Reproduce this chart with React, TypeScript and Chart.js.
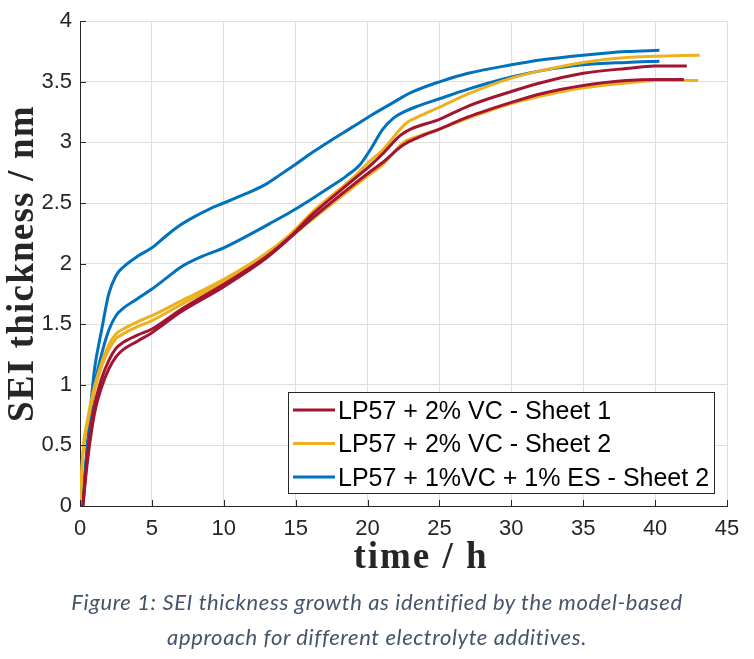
import React, { useEffect, useRef } from "react";
import { Chart, registerables } from "chart.js";

Chart.register(...registerables);

// ---------- data ----------
const RED_A_T = [0.2, 0.5, 1, 1.5, 2, 2.5, 3, 4, 5, 7, 10, 13, 14.6, 16.2, 19, 20.2, 21, 22.3, 23, 25, 27, 30, 32, 35, 38, 40, 42.2];
const RED_A_V = [0, 0.40, 0.82, 1.05, 1.20, 1.30, 1.35, 1.41, 1.46, 1.62, 1.83, 2.06, 2.22, 2.41, 2.69, 2.81, 2.90, 3.06, 3.11, 3.19, 3.30, 3.42, 3.49, 3.57, 3.61, 3.63, 3.63];

const RED_B_T = [0.2, 0.5, 1, 1.5, 2, 2.5, 3, 4, 5, 7, 10, 13, 16.2, 19, 20.2, 21, 22.5, 23.5, 25, 27, 30, 32, 35, 38, 40, 42];
const RED_B_V = [0, 0.35, 0.76, 0.98, 1.13, 1.23, 1.29, 1.36, 1.43, 1.60, 1.81, 2.05, 2.38, 2.65, 2.76, 2.83, 2.98, 3.04, 3.11, 3.21, 3.33, 3.40, 3.47, 3.51, 3.52, 3.52];

const YEL_A_T = [0, 0.2, 0.5, 1, 1.5, 2, 2.5, 3, 4, 5, 7, 10, 13, 14.6, 16.2, 19, 20.2, 21, 22.7, 23.5, 25, 27, 30, 32, 35, 38, 40, 43.1];
const YEL_A_V = [0, 0.45, 0.70, 0.98, 1.18, 1.33, 1.42, 1.46, 1.52, 1.57, 1.69, 1.87, 2.09, 2.24, 2.43, 2.71, 2.85, 2.93, 3.16, 3.21, 3.29, 3.40, 3.53, 3.59, 3.66, 3.70, 3.71, 3.72];

const YEL_B_T = [0, 0.2, 0.5, 1, 1.5, 2, 2.5, 3, 4, 5, 7, 10, 13, 16.2, 19, 20.2, 21, 22.5, 23.5, 25, 27, 30, 32, 35, 38, 40, 43];
const YEL_B_V = [0, 0.42, 0.67, 0.95, 1.15, 1.29, 1.38, 1.42, 1.48, 1.53, 1.66, 1.85, 2.08, 2.37, 2.63, 2.74, 2.81, 3.00, 3.05, 3.11, 3.20, 3.32, 3.38, 3.45, 3.49, 3.51, 3.51];

const BLU_A_T = [0.15, 0.5, 1, 1.5, 2, 2.5, 3, 4, 5, 6, 7, 8, 9, 10, 11, 12, 13, 14, 15, 16.2, 17.5, 19, 20.2, 21.8, 23, 25, 27, 30, 32, 35, 38, 40.3];
const BLU_A_V = [0, 0.50, 1.12, 1.45, 1.75, 1.90, 1.97, 2.06, 2.13, 2.23, 2.32, 2.39, 2.45, 2.50, 2.55, 2.60, 2.66, 2.74, 2.82, 2.92, 3.02, 3.13, 3.22, 3.33, 3.41, 3.50, 3.57, 3.64, 3.68, 3.72, 3.75, 3.76];

const BLU_B_T = [0.15, 0.5, 1, 1.5, 2, 2.5, 3, 4, 5, 6, 7, 8.5, 10, 11.5, 13.2, 14.7, 16.2, 17.5, 18.5, 19.5, 20.3, 21, 21.8, 22.5, 23.5, 25, 27, 30, 32, 35, 38, 40.3];
const BLU_B_V = [0, 0.45, 0.98, 1.25, 1.45, 1.57, 1.63, 1.71, 1.79, 1.88, 1.97, 2.06, 2.13, 2.22, 2.33, 2.43, 2.54, 2.64, 2.72, 2.82, 2.96, 3.10, 3.20, 3.25, 3.30, 3.36, 3.44, 3.54, 3.59, 3.64, 3.66, 3.67];

const LEGEND_LABELS = ["LP57 + 2% VC - Sheet 1", "LP57 + 2% VC - Sheet 2", "LP57 + 1%VC + 1% ES - Sheet 2"];
const X_TITLE = "time / h";
const Y_TITLE = "SEI thickness / nm";
const CAPTION_1 = "Figure 1: SEI thickness growth as identified by the model-based";
const CAPTION_2 = "approach for different electrolyte additives.";

const RED = "#A2142F";
const YELLOW = "#EDB120";
const BLUE = "#0072BD";
const LEGEND_COLORS = [RED, YELLOW, BLUE];

const pts = (t: number[], v: number[]) => t.map((x, i) => ({ x, y: v[i] }));

const overlay = {
  id: "overlay",
  afterDraw(chart: any) {
    const { ctx, chartArea: ca, scales } = chart;
    const xs = scales.x;
    const ys = scales.y;
    ctx.save();
    // inward tick marks
    ctx.strokeStyle = "#262626";
    ctx.lineWidth = 1;
    xs.ticks.forEach((t: any) => {
      const px = Math.round(xs.getPixelForValue(t.value)) + 0.5;
      ctx.beginPath();
      ctx.moveTo(px, ca.bottom);
      ctx.lineTo(px, ca.bottom - 6);
      ctx.stroke();
    });
    ys.ticks.forEach((t: any) => {
      const py = Math.round(ys.getPixelForValue(t.value)) + 0.5;
      ctx.beginPath();
      ctx.moveTo(ca.left, py);
      ctx.lineTo(ca.left + 6, py);
      ctx.stroke();
    });

    // legend
    const lx = 288.5, ly = 392.5, lw = 426, lh = 101;
    ctx.fillStyle = "#ffffff";
    ctx.fillRect(lx, ly, lw, lh);
    ctx.strokeStyle = "#262626";
    ctx.lineWidth = 1;
    ctx.strokeRect(lx, ly, lw, lh);
    ctx.font = '25px "Liberation Sans", Arial, sans-serif';
    ctx.textBaseline = "middle";
    ctx.textAlign = "left";
    LEGEND_LABELS.forEach((lab, i) => {
      const cy = 410 + i * 33.5;
      ctx.strokeStyle = LEGEND_COLORS[i];
      ctx.lineWidth = 3;
      ctx.beginPath();
      ctx.moveTo(293, cy);
      ctx.lineTo(335, cy);
      ctx.stroke();
      ctx.fillStyle = "#000000";
      ctx.fillText(lab, 338, cy + 2);
    });

    // axis titles
    ctx.fillStyle = "#262626";
    ctx.font = 'bold 37px "Liberation Serif", "Times New Roman", serif';
    ctx.textBaseline = "alphabetic";
    ctx.textAlign = "center";
    const fit = (text: string, target: number) => {
      (ctx as any).letterSpacing = "0px";
      const w = ctx.measureText(text).width;
      const ls = (target - w) / text.length;
      (ctx as any).letterSpacing = ls.toFixed(2) + "px";
    };
    fit(X_TITLE, 135);
    ctx.fillText(X_TITLE, 421, 568);
    ctx.save();
    ctx.translate(33, (ca.top + ca.bottom) / 2);
    ctx.rotate(-Math.PI / 2);
    fit(Y_TITLE, 317);
    ctx.fillText(Y_TITLE, 0, 0);
    ctx.restore();
    (ctx as any).letterSpacing = "0px";
    ctx.restore();
  },
};

export default function App() {
  const ref = useRef<HTMLCanvasElement | null>(null);

  useEffect(() => {
    if (!ref.current) return;
    const mk = (label: string, t: number[], v: number[], color: string) => ({
      label,
      data: pts(t, v),
      borderColor: color,
      backgroundColor: color,
      borderWidth: 3,
      pointRadius: 0,
      fill: false,
      cubicInterpolationMode: "monotone" as const,
    });
    const chart = new Chart(ref.current, {
      type: "line",
      data: {
        datasets: [
          mk(LEGEND_LABELS[0], RED_A_T, RED_A_V, RED),
          mk(LEGEND_LABELS[0], RED_B_T, RED_B_V, RED),
          mk(LEGEND_LABELS[1], YEL_A_T, YEL_A_V, YELLOW),
          mk(LEGEND_LABELS[1], YEL_B_T, YEL_B_V, YELLOW),
          mk(LEGEND_LABELS[2], BLU_A_T, BLU_A_V, BLUE),
          mk(LEGEND_LABELS[2], BLU_B_T, BLU_B_V, BLUE),
        ],
      },
      options: {
        animation: false,
        responsive: false,
        devicePixelRatio: 1,
        layout: { padding: { top: 20, right: 27, left: 0, bottom: 0 } },
        plugins: { legend: { display: false }, tooltip: { enabled: false }, title: { display: false } },
        scales: {
          x: {
            type: "linear",
            min: 0,
            max: 45,
            ticks: {
              stepSize: 5,
              padding: 10,
              color: "#262626",
              font: { family: '"Liberation Sans", Arial, sans-serif', size: 22 },
              maxRotation: 0,
              callback: (v: any) => String(Number(v)),
            },
            grid: { color: "#dfdfdf", drawTicks: false, lineWidth: 1 },
            border: { display: true, color: "#262626", width: 1 },
            afterFit: (s: any) => { s.height = 153; },
          },
          y: {
            type: "linear",
            min: 0,
            max: 4,
            ticks: {
              stepSize: 0.5,
              padding: 8,
              color: "#262626",
              font: { family: '"Liberation Sans", Arial, sans-serif', size: 22 },
              callback: (v: any) => String(Number(v)),
            },
            grid: { color: "#dfdfdf", drawTicks: false, lineWidth: 1 },
            border: { display: true, color: "#262626", width: 1 },
            afterFit: (s: any) => { s.width = 80; },
          },
        },
      },
      plugins: [overlay],
    });
    return () => chart.destroy();
  }, []);

  const capStyle: React.CSSProperties = {
    position: "absolute",
    left: 0,
    width: 754,
    textAlign: "center",
    fontFamily: 'Lato, "Open Sans", sans-serif',
    fontStyle: "italic",
    fontSize: 22,
    letterSpacing: "0.6px",
    lineHeight: "24px",
    color: "#44546A",
    whiteSpace: "nowrap",
  };

  return (
    <div style={{ position: "absolute", left: 0, top: 0, width: 754, height: 659, background: "#fff" }}>
      <canvas ref={ref} width={754} height={659} style={{ display: "block" }} />
      <div style={{ ...capStyle, top: 590 }}>{CAPTION_1}</div>
      <div style={{ ...capStyle, top: 625 }}>{CAPTION_2}</div>
    </div>
  );
}
